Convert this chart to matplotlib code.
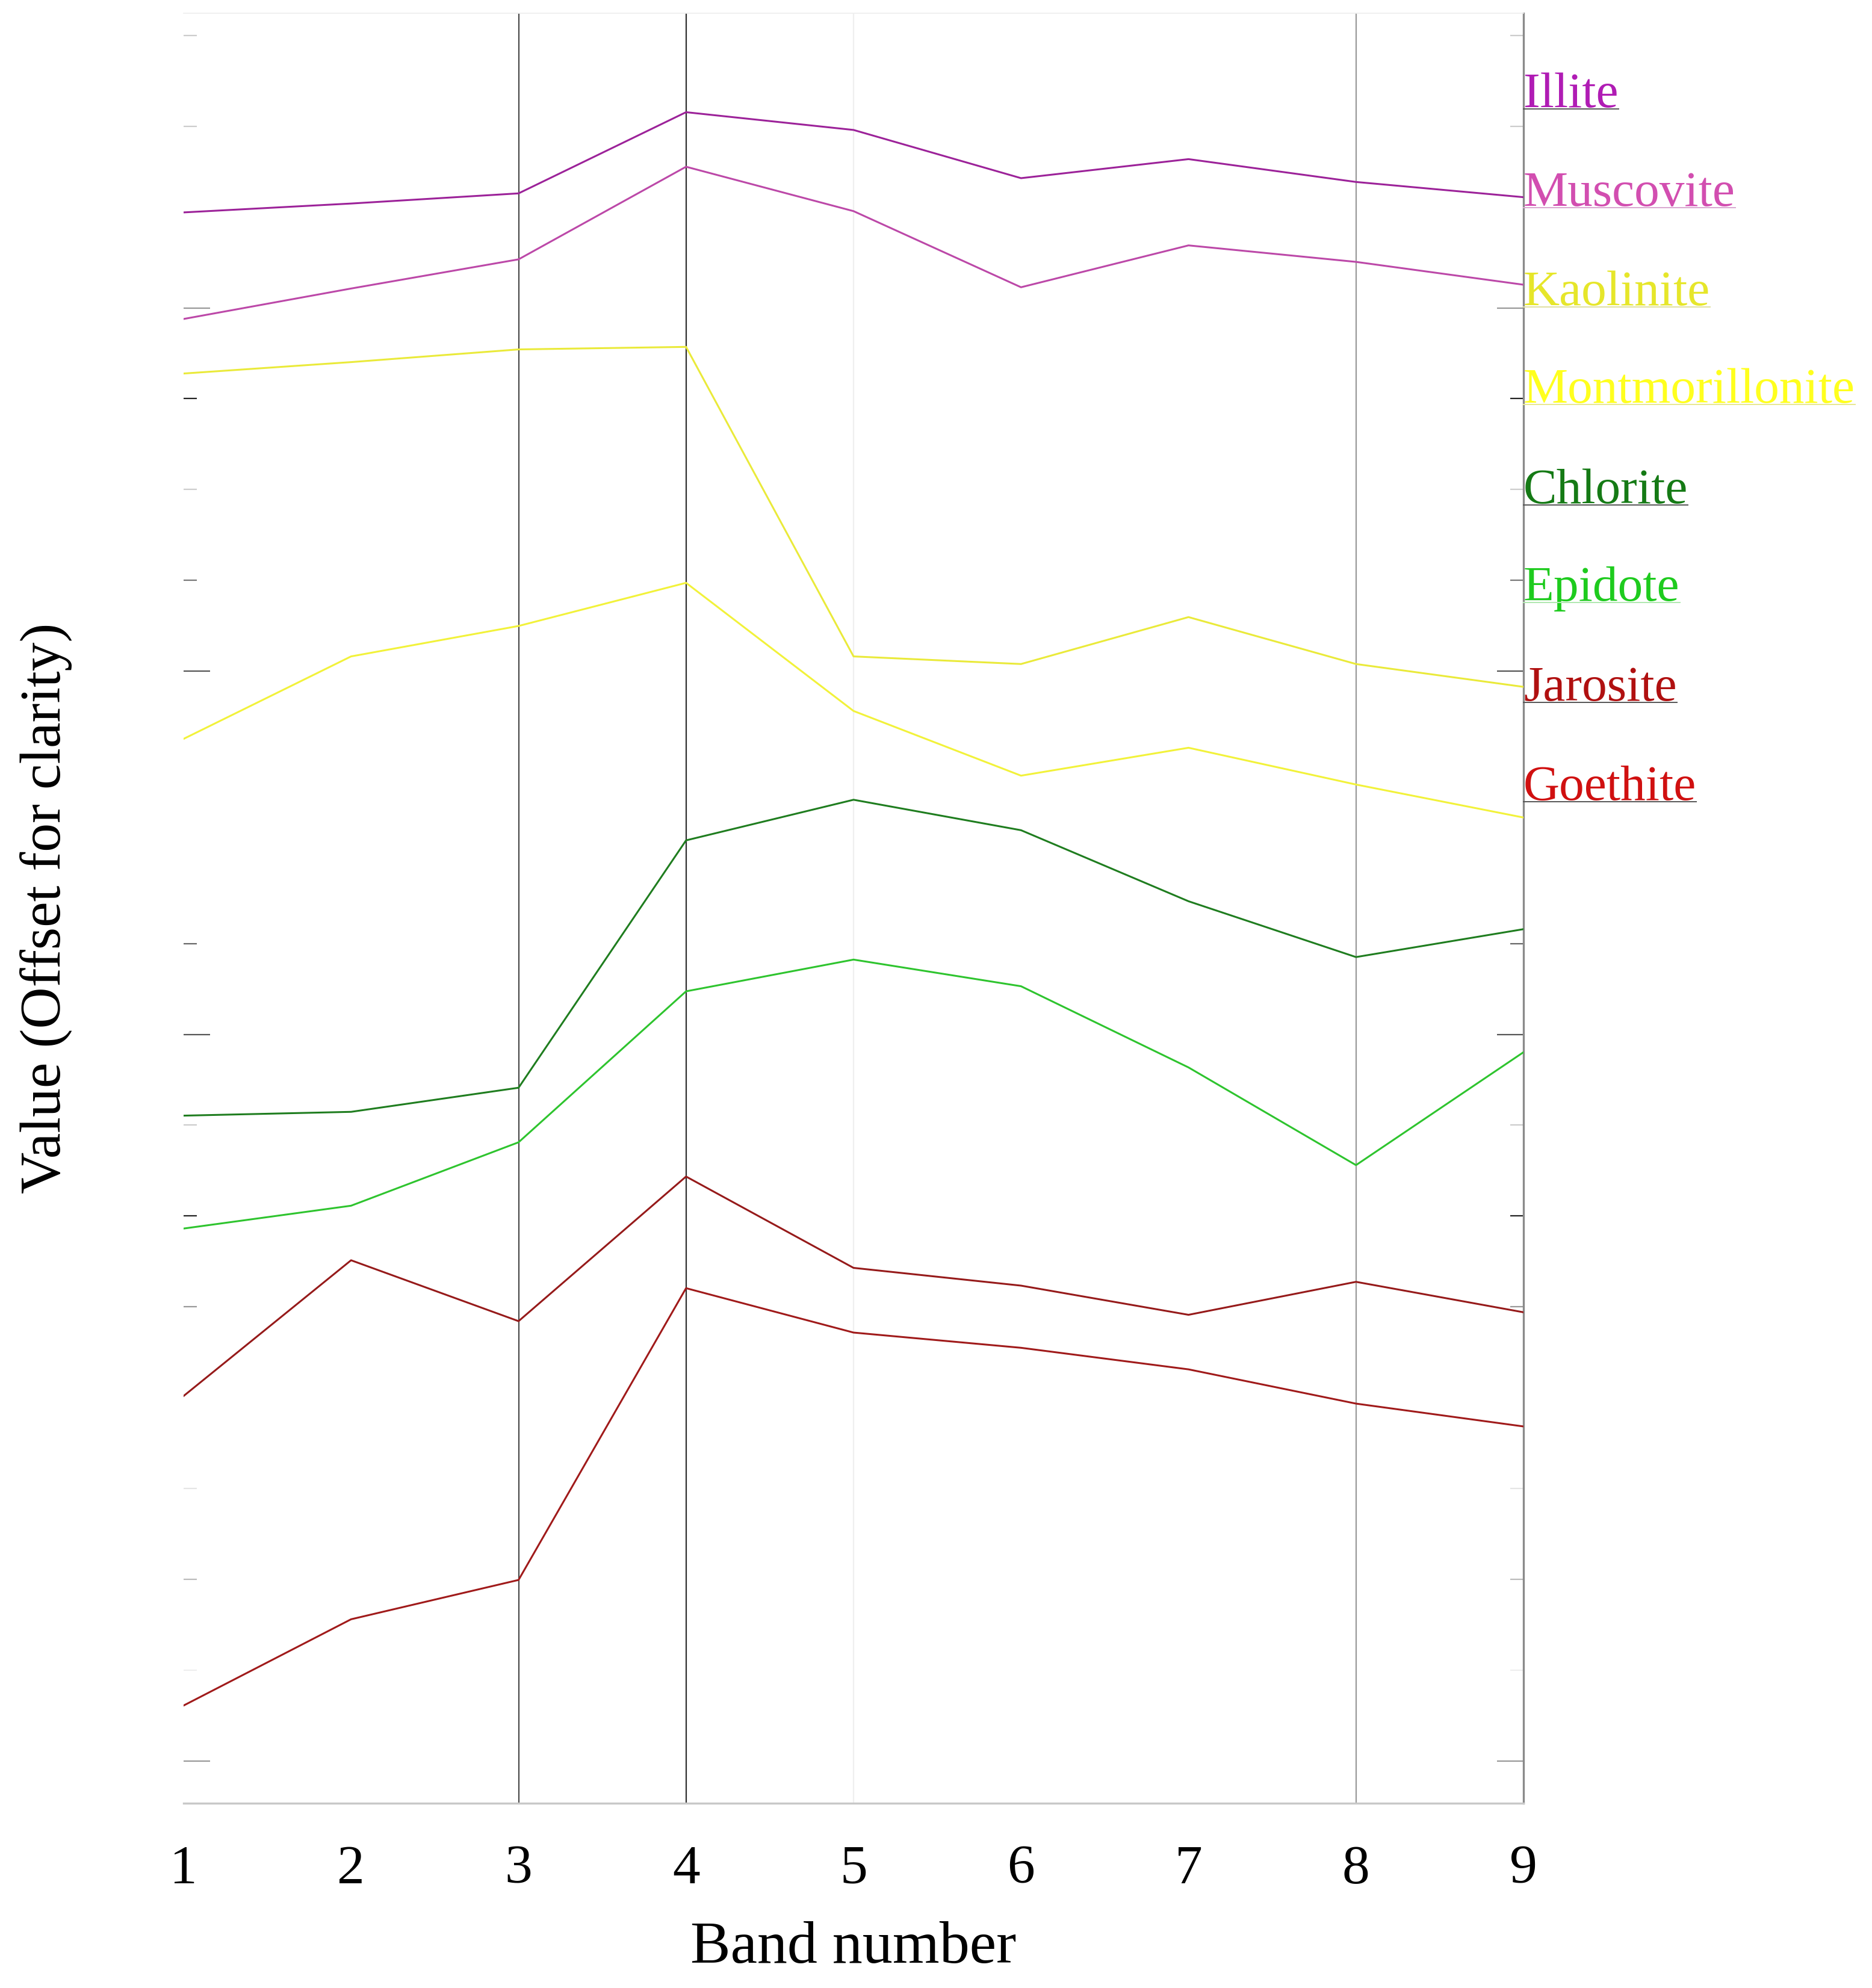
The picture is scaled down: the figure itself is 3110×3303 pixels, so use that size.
import numpy as np
import matplotlib
matplotlib.use('Agg')
import matplotlib.pyplot as plt
from matplotlib.lines import Line2D

plt.rcParams['font.family'] = ['Liberation Serif', 'DejaVu Serif']

bands = [1, 2, 3, 4, 5, 6, 7, 8, 9]

# values (offset units)
illite = [1.254, 1.261, 1.269, 1.333, 1.319, 1.281, 1.296, 1.278, 1.266]
muscovite = [1.170, 1.194, 1.217, 1.290, 1.255, 1.195, 1.228, 1.215, 1.197]
kaolinite = [1.127, 1.136, 1.146, 1.148, 0.904, 0.898, 0.935, 0.898, 0.880]
montmorillonite = [0.839, 0.904, 0.928, 0.962, 0.861, 0.810, 0.832, 0.803, 0.777]
chlorite = [0.542, 0.545, 0.564, 0.759, 0.791, 0.767, 0.711, 0.667, 0.689]
epidote = [0.453, 0.471, 0.521, 0.640, 0.665, 0.644, 0.580, 0.503, 0.592]
jarosite = [0.321, 0.428, 0.380, 0.494, 0.422, 0.408, 0.385, 0.411, 0.387]
goethite = [0.077, 0.145, 0.176, 0.406, 0.371, 0.359, 0.342, 0.315, 0.297]

names = ['Illite', 'Muscovite', 'Kaolinite', 'Montmorillonite',
         'Chlorite', 'Epidote', 'Jarosite', 'Goethite']
series = [illite, muscovite, kaolinite, montmorillonite,
          chlorite, epidote, jarosite, goethite]
line_colors = ['#9c2299', '#bc48a8', '#eaea3a', '#f2f23a',
               '#1f7d1f', '#2ec42e', '#961a1a', '#a01a1a']
label_colors = ['#b01cb4', '#d24eb0', '#e6e62a', '#ffff1e',
                '#157a15', '#1ecb1e', '#b01010', '#d01010']
underline_colors = ['#555555', '#d8a8d0', '#e0e0a0', '#e8e890',
                    '#555555', '#b0e8b0', '#555555', '#555555']
label_base = [1.337, 1.259, 1.181, 1.104, 1.025, 0.948, 0.869, 0.791]

# band lines and the y tick marks of the original
vlines = [3, 4, 5, 8]
vline_colors = ['#4a4a4a', '#2e2e2e', '#efefef', '#9a9a9a']
yticks = np.linspace(0.0334, 1.3935, 20)
ytick_colors = ['#999999', '#eeeeee', '#bbbbbb', '#e5e5e5', 'none',
                '#999999', '#222222', '#cccccc', '#555555', '#666666',
                'none', 'none', '#555555', '#777777', '#cccccc',
                '#222222', '#999999', 'none', '#cccccc', '#cccccc']
ytick_long = [True, False, False, False, False, False, False, False, True, False,
              False, False, True, False, False, False, True, False, False, False]

fig = plt.figure(figsize=(31.1, 33.03), dpi=100)
ax = fig.add_axes([0.09807, 0.09295, 0.71576, 0.90039])

for x, c in zip(vlines, vline_colors):
    ax.axvline(x, color=c, lw=1.6, zorder=1)

for vals, c in zip(series, line_colors):
    ax.plot(bands, vals, color=c, lw=2.2, zorder=3)

ax.set_xlim(1, 9)
ax.set_ylim(0, 1.411)

ax.spines['left'].set_visible(False)
ax.spines['top'].set_color('#eeeeee')
ax.spines['top'].set_linewidth(1.2)
ax.spines['bottom'].set_color('#c8c8c8')
ax.spines['bottom'].set_linewidth(2.4)
ax.spines['right'].set_color('#8a8a8a')
ax.spines['right'].set_linewidth(2.4)

ax.set_xticks(bands)
ax.set_xticklabels([str(b) for b in bands])
ax.tick_params(axis='x', length=0, pad=50, labelsize=66)

ax.set_yticks(yticks)
ax.tick_params(axis='y', direction='in', left=True, right=True,
               labelleft=False, labelright=False, width=1.6)
for t, c, lng in zip(ax.yaxis.get_major_ticks(), ytick_colors, ytick_long):
    for tl in (t.tick1line, t.tick2line):
        tl.set_markeredgecolor(c)
        tl.set_markersize(32 if lng else 16)

ax.set_xlabel('Band number', fontsize=72)
ax.xaxis.set_label_coords(0.5, -0.066)
ax.set_ylabel('Value (Offset for clarity)', fontsize=69)
ax.yaxis.set_label_coords(-0.083, 0.5)

texts = []
for name, c, yb in zip(names, label_colors, label_base):
    t = ax.text(9, yb, name, color=c, fontsize=60, ha='left', va='baseline',
                transform=ax.transData, clip_on=False)
    texts.append(t)

# underline the mineral names
fig.canvas.draw()
for t, uc in zip(texts, underline_colors):
    bb = t.get_window_extent()
    yb = ax.transData.transform((9, t.get_position()[1]))[1] - 3
    fig.add_artist(Line2D([bb.x0, bb.x1], [yb, yb], color=uc, lw=1.4,
                          transform=None))

fig.savefig('out.png', dpi=100, facecolor='white')
